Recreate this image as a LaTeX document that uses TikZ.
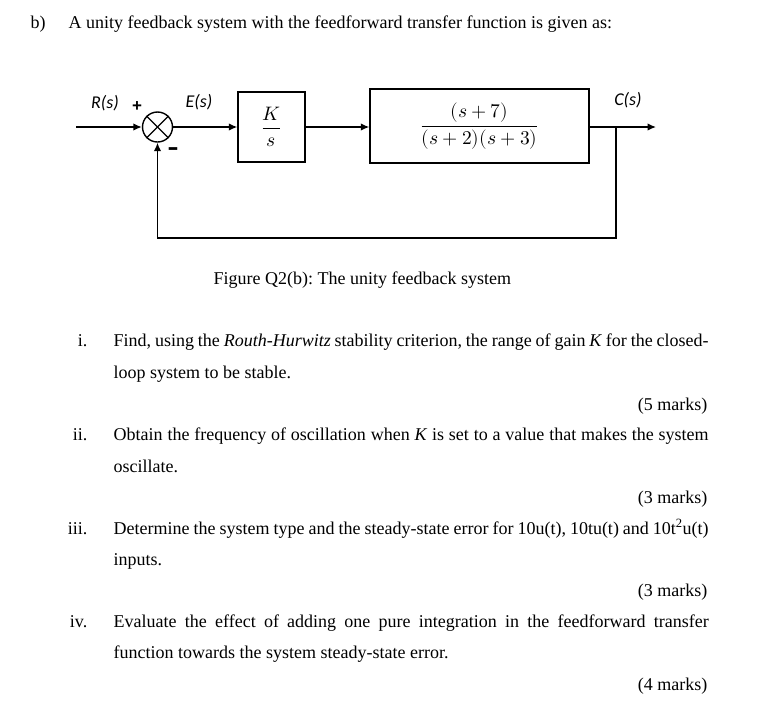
\documentclass[tikz,border=0pt]{standalone}
\usepackage{fontspec}
\usepackage{amsmath}
\usepackage{unicode-math}
\usepackage{graphicx}
\setmainfont{Liberation Serif}
\setmathfont{Latin Modern Math}
\newfontfamily\lblfont{Carlito}
\newfontfamily\sgnfont{Liberation Sans}
\usetikzlibrary{arrows.meta}
\frenchspacing
\begin{document}
\begin{tikzpicture}[x=1pt,y=-1pt,
  line width=1.4pt,
  >={Latex[length=8.5pt,width=7.5pt]},
  txt/.style={font=\fontsize{18}{21}\selectfont, inner sep=0pt, anchor=base west},
  rtxt/.style={font=\fontsize{18}{21}\selectfont, inner sep=0pt, anchor=base east},
  lbl/.style={font=\lblfont\itshape\fontsize{18}{20}\selectfont, inner sep=0pt},
  sgn/.style={font=\sgnfont\bfseries\fontsize{17}{20}\selectfont, inner sep=0pt},
  blk/.style={draw, inner sep=0pt, font=\fontsize{19.5}{22}\selectfont}]
\useasboundingbox (0,0) rectangle (761,713);
% heading
\node[txt] (hb) at (30,28) {b)};
\node[txt] (ht) at (68,28) {A unity feedback system with the feedforward transfer function is given as:};
% diagram
\node[circle, draw, minimum size=30pt, inner sep=0pt] (sum) at (157.5,127) {};
\draw (sum.north west) -- (sum.south east);
\draw (sum.north east) -- (sum.south west);
\coordinate (in) at (76,127);
\node[blk, minimum width=67pt, minimum height=70pt] (kbox) at (271.5,127) {$\dfrac{K}{s}$};
\node[blk, minimum width=219pt, minimum height=74pt] (gbox) at (479.5,126) {$\dfrac{(s+7)}{(s+2)(s+3)}$};
\coordinate (br) at (616,127);
\coordinate (out) at (656,127);
\coordinate (fb) at (157.5,238);
\draw[->] (in) -- (sum.west);
\draw[->] (sum.east) -- (kbox.west);
\draw[->] (kbox.east) -- (gbox.west |- kbox.east);
\draw (gbox.east |- br) -- (br);
\draw[->] (br) -- (out);
\draw[->] (br) |- (fb) -- (sum.south);
\node[lbl] (rs) at (105,103) {R(s)};
\node[sgn] (plus) at (137,107) {+};
\node[lbl] (es) at (199,102) {E(s)};
\node[sgn] (minus) at (173,152.5) {\scalebox{1}[1.5]{−}};
\node[lbl] (cs) at (628,100) {C(s)};
% caption
\node[txt] (cap) at (213,284) {Figure Q2(b): The unity feedback system};
% items
\node[rtxt] (n1) at (88,346) {i.};
\node[txt] (l1a) at (113,346) {\makebox[595pt][s]{Find, using the \textit{Routh-Hurwitz} stability criterion, the range of gain \textit{K} for the closed-}};
\node[txt] (l1b) at (113,378) {loop system to be stable.};
\node[rtxt] (m1) at (708,410) {(5 marks)};
\node[rtxt] (n2) at (88,440) {ii.};
\node[txt] (l2a) at (113,440) {\makebox[595pt][s]{Obtain the frequency of oscillation when \textit{K} is set to a value that makes the system}};
\node[txt] (l2b) at (113,472) {oscillate.};
\node[rtxt] (m2) at (708,503) {(3 marks)};
\node[rtxt] (n3) at (88,534) {iii.};
\node[txt] (l3a) at (113,534) {\makebox[595pt][s]{Determine the system type and the steady-state error for 10u(t), 10tu(t) and 10t\textsuperscript{2}u(t)}};
\node[txt] (l3b) at (113,565) {inputs.};
\node[rtxt] (m3) at (708,596) {(3 marks)};
\node[rtxt] (n4) at (88,627) {iv.};
\node[txt] (l4a) at (113,627) {\makebox[595pt][s]{Evaluate the effect of adding one pure integration in the feedforward transfer}};
\node[txt] (l4b) at (113,658) {function towards the system steady-state error.};
\node[rtxt] (m4) at (708,690) {(4 marks)};
\end{tikzpicture}
\end{document}
